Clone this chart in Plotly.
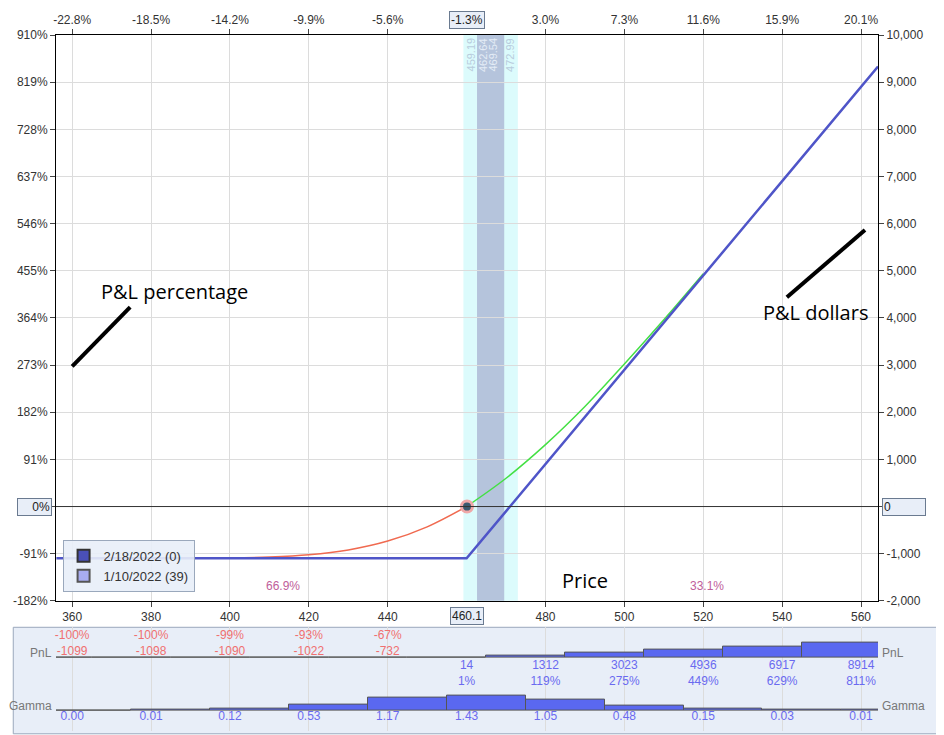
import plotly.graph_objects as go

# ticks / labels
price_ticks = [360, 380, 400, 420, 440, 480, 500, 520, 540, 560]
top_pct = ["-22.8%", "-18.5%", "-14.2%", "-9.9%", "-5.6%", "3.0%", "7.3%", "11.6%", "15.9%", "20.1%"]
dollar_ticks = [-2000, -1000, 0, 1000, 2000, 3000, 4000, 5000, 6000, 7000, 8000, 9000, 10000]
pct_labels = ["-182%", "-91%", "", "91%", "182%", "273%", "364%", "455%", "546%", "637%", "728%", "819%", "910%"]
dollar_labels = ["-2,000", "-1,000", "", "1,000", "2,000", "3,000", "4,000", "5,000", "6,000", "7,000", "8,000", "9,000", "10,000"]

# expiration (2/18/2022) and T+0 (1/10/2022) curves
exp_price = [356, 460, 564.3]
exp_pnl = [-1099, -1099, 9331]
t0_price_red = [360, 380, 400, 410, 420, 430, 440, 450, 460]
t0_pnl_red = [-1099, -1098, -1090, -1070, -1022, -920, -732, -430, 0]
t0_price_green = [460, 470, 480, 490, 500, 510, 520]
t0_pnl_green = [0, 600, 1312, 2120, 3023, 3960, 4936]

# band edges
bands = [459.19, 462.64, 469.54, 472.99]
band_label_x = [461.0, 464.2, 466.6, 471.0]

# bottom table
col_price = [360, 380, 400, 420, 440, 460, 480, 500, 520, 540, 560]
pnl_vals = [-1099, -1098, -1090, -1022, -732, 14, 1312, 3023, 4936, 6917, 8914]
pnl_pct = [-100, -100, -99, -93, -67, 1, 119, 275, 449, 629, 811]
gamma_vals = [0.00, 0.01, 0.12, 0.53, 1.17, 1.43, 1.05, 0.48, 0.15, 0.03, 0.01]

FONT = "Liberation Sans"
XR = [355.9, 564.3]
BLUE = "#4f55c8"
fig = go.Figure()

fig.add_vrect(x0=bands[0], x1=bands[3], fillcolor="#dcfbfc", line_width=0, layer="below")
fig.add_vrect(x0=bands[1], x1=bands[2], fillcolor="#b5c4dc", line_width=0, layer="below")

fig.add_trace(go.Scatter(x=t0_price_red, y=t0_pnl_red, mode="lines", line=dict(color="#f06a50", width=1.5, shape="spline"), showlegend=False))
fig.add_trace(go.Scatter(x=t0_price_green, y=t0_pnl_green, mode="lines", line=dict(color="#44e044", width=1.5, shape="spline"), showlegend=False))
fig.add_trace(go.Scatter(x=exp_price, y=exp_pnl, mode="lines", line=dict(color=BLUE, width=2.5), showlegend=False))
fig.add_trace(go.Scatter(x=[460.1], y=[0], mode="markers", marker=dict(size=11, color="#3a5a70", line=dict(color="#f0a8a8", width=3)), showlegend=False))
fig.add_trace(go.Scatter(x=[None], y=[None], mode="markers", name="2/18/2022 (0)", marker=dict(symbol="square", size=10, color="#4a50b8", line=dict(color="#333", width=1))))
fig.add_trace(go.Scatter(x=[None], y=[None], mode="markers", name="1/10/2022 (39)", marker=dict(symbol="square", size=10, color="#a8acf0", line=dict(color="#555", width=1))))
fig.add_trace(go.Scatter(x=[None], y=[None], yaxis="y2", xaxis="x2", showlegend=False))

# band labels
for b, bx in zip(bands, band_label_x):
    col = "#e4ecf6" if b in (462.64, 469.54) else "#b8ccdc"
    fig.add_annotation(x=bx, y=9980, text=f"{b:.2f}", textangle=-90, showarrow=False, yanchor="top",
                       font=dict(family=FONT, size=11, color=col))

# bottom panel
pnl_h = [max(v, 0) * 0.0016 for v in pnl_vals]
gam_h = [g * 10 for g in gamma_vals]
fig.add_trace(go.Bar(x=col_price, y=pnl_h, base=70, width=20, xaxis="x", yaxis="y3", marker=dict(color="#5a68f0", line=dict(color="#555", width=1)), showlegend=False))
fig.add_trace(go.Bar(x=col_price, y=gam_h, base=20, width=20, xaxis="x", yaxis="y3", marker=dict(color="#5a68f0", line=dict(color="#555", width=1)), showlegend=False))
neg = [(p, v, c) for p, v, c in zip(col_price, pnl_vals, pnl_pct) if v < 0]
pos = [(p, v, c) for p, v, c in zip(col_price, pnl_vals, pnl_pct) if v >= 0]
fig.add_trace(go.Scatter(x=[p for p, _, _ in neg], y=[70] * len(neg), yaxis="y3", mode="text", cliponaxis=False,
                         text=[f"{c}%<br>{v}" for _, v, c in neg], textfont=dict(family=FONT, size=12, color="#f07070"), textposition="top center", showlegend=False))
fig.add_trace(go.Scatter(x=[p for p, _, _ in pos], y=[68] * len(pos), yaxis="y3", mode="text", cliponaxis=False,
                         text=[f"{v}<br>{c}%" for _, v, c in pos], textfont=dict(family=FONT, size=12, color="#6a6af0"), textposition="bottom center", showlegend=False))
fig.add_trace(go.Scatter(x=col_price, y=[19] * len(col_price), yaxis="y3", mode="text", cliponaxis=False,
                         text=[f"{g:.2f}" for g in gamma_vals], textfont=dict(family=FONT, size=12, color="#6a6af0"), textposition="bottom center", showlegend=False))

fig.add_shape(type="rect", xref="paper", yref="paper", x0=-0.052, x1=1.08, y0=-0.004, y1=0.149,
              fillcolor="#e8eef8", line=dict(color="#9aa8bc", width=1), layer="below")
for lbl, yy in (("PnL", 0.099), ("Gamma", 0.023)):
    fig.add_annotation(xref="paper", yref="paper", x=-0.003, y=yy, text=lbl, showarrow=False, xanchor="right", font=dict(family=FONT, size=12, color="#777"))
    fig.add_annotation(xref="paper", yref="paper", x=1.003, y=yy, text=lbl, showarrow=False, xanchor="left", font=dict(family=FONT, size=12, color="#777"))

# boxed current labels
box = dict(showarrow=False, bgcolor="#e8eef8", bordercolor="#6a7a90", borderwidth=1, font=dict(family=FONT, size=12, color="#222"))
fig.add_annotation(xref="paper", x=-0.005, y=0, xanchor="right", text="&nbsp; &nbsp; 0%", **box)
fig.add_annotation(xref="paper", x=1.005, y=0, xanchor="left", text="0 &nbsp; &nbsp; &nbsp; &nbsp; &nbsp;", align="left", **box)
fig.add_annotation(x=460.1, yref="paper", y=1.0, yanchor="bottom", text="-1.3%", yshift=6, **box)
fig.add_annotation(x=460.1, y=-2000, yanchor="top", text="460.1", yshift=-6, **box)

# text
fig.add_annotation(x=413.5, y=-1680, text="66.9%", showarrow=False, font=dict(family=FONT, size=12, color="#c0609a"))
fig.add_annotation(x=521, y=-1680, text="33.1%", showarrow=False, font=dict(family=FONT, size=12, color="#c0609a"))
fig.add_annotation(x=490, y=-1570, text="Price", showarrow=False, font=dict(family="Open Sans", size=20, color="black"))
fig.add_annotation(x=386, y=4550, text="P&L percentage", showarrow=False, font=dict(family="Open Sans", size=20, color="black"))
fig.add_annotation(x=548.5, y=4110, text="P&L dollars", showarrow=False, font=dict(family="Open Sans", size=20, color="black"))
fig.add_shape(type="line", x0=360, y0=2974, x1=374.7, y1=4230, line=dict(color="black", width=4))
fig.add_shape(type="line", x0=541.2, y0=4440, x1=561, y1=5864, line=dict(color="black", width=4))

fig.add_hline(y=0, line=dict(color="#333", width=1))

axfont = dict(family=FONT, size=12, color="#333")
fig.update_layout(
    width=944, height=735, plot_bgcolor="white", paper_bgcolor="white",
    margin=dict(l=48, r=74, t=25, b=5),
    bargap=0,
    xaxis=dict(range=XR, tickvals=price_ticks, ticks="outside", ticklen=5, showgrid=True, gridcolor="#dcdcdc",
               showline=True, linecolor="black", tickfont=axfont, anchor="y", zeroline=False),
    xaxis2=dict(range=XR, tickvals=price_ticks, ticktext=top_pct, overlaying="x", side="top", ticks="outside",
                ticklen=5, showline=True, linecolor="black", tickfont=axfont, showgrid=False, anchor="y"),
    yaxis=dict(range=[-2000, 10000], tickvals=dollar_ticks, ticktext=pct_labels, domain=[0.187, 1], ticks="outside",
               ticklen=5, showgrid=True, gridcolor="#dcdcdc", showline=True, linecolor="black", tickfont=axfont, zeroline=False),
    yaxis2=dict(range=[-2000, 10000], tickvals=dollar_ticks, ticktext=dollar_labels, overlaying="y", side="right",
                ticks="outside", ticklen=5, showline=True, linecolor="black", tickfont=axfont, showgrid=False, zeroline=False),
    yaxis3=dict(range=[0, 100], domain=[0, 0.15], visible=False, anchor="x"),
    legend=dict(x=0.008, y=0.2, xanchor="left", yanchor="bottom", bgcolor="rgba(232,238,248,0.9)", bordercolor="#9aa8bc",
                borderwidth=1, font=dict(family=FONT, size=13, color="#333"), tracegroupgap=0, itemsizing="constant"),
)
fig.write_html("out.html")
